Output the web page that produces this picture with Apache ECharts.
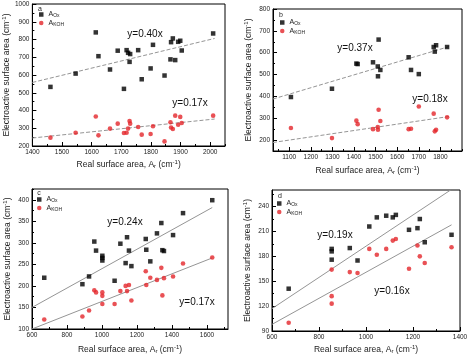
<!DOCTYPE html>
<html><head><meta charset="utf-8">
<script src="https://cdn.jsdelivr.net/npm/echarts@6/dist/echarts.min.js"></script>
<style>html,body{margin:0;padding:0;background:#fff}#c{width:474px;height:357px}</style>
</head><body><div id="c"></div>
<script>
// ---------- Panel a ----------
const aAr   = [1461,1546,1614,1623,1662,1688,1709,1718,1723,1728,1730,1757,1769,1799,1807,1846,1866,1868,1874,1882,1892,1899,1904,2010];
const aOx   = [533,608,840,706,631,737,522,740,725,674,718,740,576,637,770,597,688,785,806,684,787,793,738,834];
const aKoh  = [247,275,366,260,298,326,273,275,298,341,326,307,264,268,311,226,334,304,296,371,320,364,330,371];
const aFitOx  = [[1400,558],[2015,806]];
const aFitKoh = [[1400,245],[2015,352]];
const aXTicks = [1400,1500,1600,1700,1800,1900,2000];
const aYTicks = [200,300,400,500,600,700,800,900,1000];
// ---------- Panel b ----------
const bAr   = [1108,1298,1411,1417,1488,1510,1511,1514,1522,1653,1664,1700,1769,1774,1780,1831];
const bOx   = [397,435,550,548,556,537,492,660,521,579,521,502,626,605,634,626];
const bKoh  = [255,209,289,273,250,260,247,339,287,250,252,354,321,240,247,304];
const bFitOx  = [[1025,388],[1840,628]];
const bFitKoh = [[1025,189],[1840,308]];
const bXTicks = [1100,1200,1300,1400,1500,1600,1700,1800];
const bYTicks = [200,300,400,500,600,700,800];
// ---------- Panel c ----------
const cAr   = [670,888,926,956,966,1002,1002,1002,1072,1105,1135,1143,1154,1168,1250,1253,1276,1314,1339,1345,1354,1406,1463,1630];
const cOx   = [219,204,222,303,282,270,265,259,212,298,253,313,282,246,309,284,257,322,346,283,281,318,369,399];
const cKoh  = [122,129,143,190,185,185,177,158,158,188,200,188,202,166,234,202,219,214,242,178,218,222,252,266];
const cFitOx  = [[600,150],[1630,382]];
const cFitKoh = [[600,100],[1630,265]];
const cXTicks = [600,800,1000,1200,1400,1600];
const cYTicks = [100,150,200,250,300,350,400];
// ---------- Panel d ----------
const dAr   = [671,854,854,854,931,964,1014,1046,1086,1114,1127,1183,1219,1229,1250,1364];
const dOx   = [141,189,186,176,190,175,216,227,229,227,230,212,214,225,197,206];
const dKoh  = [100,164,132,123,161,160,189,182,189,199,201,165,193,180,172,191];
const dFitOx  = [[600,117],[1360,260]];
const dFitKoh = [[600,98],[1364,218]];
const dXTicks = [600,800,1000,1200,1400];
const dYTicks = [90,120,150,180,210,240];

const FONT = '"Liberation Sans", Arial, Helvetica, sans-serif';
const panels = [
  {id:'a', grid:{left:31,top:4,width:194,height:142}, xr:[1400,2050], yr:[200,1000], ar:aAr, ox:aOx, koh:aKoh,
   fo:aFitOx, fk:aFitKoh, xt:aXTicks, yt:aYTicks, dashed:true, xGap:13, yGap:20,
   leg:{left:39,top:11}, letter:[40,9], t1:['y=0.40x',145,34], t2:['y=0.17x',190,103]},
  {id:'b', grid:{left:273,top:9,width:189,height:142}, xr:[1025,1900], yr:[150,800], ar:bAr, ox:bOx, koh:bKoh,
   fo:bFitOx, fk:bFitKoh, xt:bXTicks, yt:bYTicks, dashed:true, xGap:14, yGap:19,
   leg:{left:280,top:19}, letter:[281,15], t1:['y=0.37x',355,48], t2:['y=0.18x',430,99]},
  {id:'c', grid:{left:32,top:189,width:196,height:140}, xr:[600,1720], yr:[100,425], ar:cAr, ox:cOx, koh:cKoh,
   fo:cFitOx, fk:cFitKoh, xt:cXTicks, yt:cYTicks, dashed:false, xGap:15, yGap:19,
   leg:{left:37,top:196}, letter:[39,193], t1:['y=0.24x',125,222], t2:['y=0.17x',197,302]},
  {id:'d', grid:{left:272,top:190,width:188,height:141}, xr:[600,1400], yr:[90,260], ar:dAr, ox:dOx, koh:dKoh,
   fo:dFitOx, fk:dFitKoh, xt:dXTicks, yt:dYTicks, dashed:false, xGap:13, yGap:19,
   leg:{left:277,top:200}, letter:[280,196], t1:['y=0.19x',335,235], t2:['y=0.16x',392,291]}
];

function minors(ticks, r){
  const step = ticks[1]-ticks[0], out=[];
  for (let v = ticks[0]-step/2; v <= r[1]+1e-9; v += step/2){
    if (v >= r[0]-1e-9 && ticks.indexOf(v) < 0) out.push(v);
  }
  return out;
}

const nameRich = {
  sub:{fontSize:6, fontFamily:FONT, color:'#222', padding:[4,0,0,0]},
  sup:{fontSize:6, fontFamily:FONT, color:'#222', padding:[0,0,5,0]}
};

const grid=[], xAxis=[], yAxis=[], series=[], legend=[], graphic=[];
panels.forEach((p,i)=>{
  grid.push(Object.assign({show:true, borderColor:'#000', borderWidth:1, backgroundColor:'transparent'}, p.grid));
  const lbl = {fontSize:6.5, margin:3, color:'#222', fontFamily:FONT, formatter: v => String(Math.round(v))};
  xAxis.push({gridIndex:i, type:'value', min:p.xr[0], max:p.xr[1], position:'bottom',
    axisLine:{show:true, onZero:false, lineStyle:{color:'#000', width:1}},
    axisTick:{show:true, inside:true, length:4, customValues:p.xt, lineStyle:{color:'#000'}},
    axisLabel:Object.assign({customValues:p.xt}, lbl),
    splitLine:{show:false},
    name:'Real surface area, A{sub|r} (cm{sup|-1})', nameLocation:'middle', nameGap:p.xGap,
    nameTextStyle:{fontSize:8.5, color:'#222', fontFamily:FONT, rich:nameRich}});
  xAxis.push({gridIndex:i, type:'value', min:p.xr[0], max:p.xr[1], position:'bottom',
    axisLine:{show:false, onZero:false}, axisTick:{show:true, inside:true, length:2, customValues:minors(p.xt,p.xr), lineStyle:{color:'#000'}},
    axisLabel:{show:false}, splitLine:{show:false}});
  yAxis.push({gridIndex:i, type:'value', min:p.yr[0], max:p.yr[1], position:'left',
    axisLine:{show:true, onZero:false, lineStyle:{color:'#000', width:1}},
    axisTick:{show:true, inside:true, length:4, customValues:p.yt, lineStyle:{color:'#000'}},
    axisLabel:Object.assign({customValues:p.yt}, lbl),
    splitLine:{show:false},
    name:'Electroactive surface area (cm{sup|-1})', nameLocation:'middle', nameGap:p.yGap, nameRotate:90,
    nameTextStyle:{fontSize:8.5, color:'#222', fontFamily:FONT, rich:nameRich}});
  yAxis.push({gridIndex:i, type:'value', min:p.yr[0], max:p.yr[1], position:'left',
    axisLine:{show:false, onZero:false}, axisTick:{show:true, inside:true, length:2, customValues:minors(p.yt,p.yr), lineStyle:{color:'#000'}},
    axisLabel:{show:false}, splitLine:{show:false}});
  const ax = 2*i;
  const ls = {color:'#959595', width:1, type: p.dashed ? [4,2] : 'solid'};
  series.push({type:'line', xAxisIndex:ax, yAxisIndex:ax, data:p.fo, symbol:'none', lineStyle:ls, silent:true, z:1});
  series.push({type:'line', xAxisIndex:ax, yAxisIndex:ax, data:p.fk, symbol:'none', lineStyle:ls, silent:true, z:1});
  series.push({name:p.id+'ox', type:'scatter', xAxisIndex:ax, yAxisIndex:ax, symbol:'rect', symbolSize:4.5,
    itemStyle:{color:'#000'}, z:3, data:p.ar.map((x,k)=>[x,p.ox[k]])});
  series.push({name:p.id+'koh', type:'scatter', xAxisIndex:ax, yAxisIndex:ax, symbol:'circle', symbolSize:4.6,
    itemStyle:{color:'#e3262b'}, z:3, data:p.ar.map((x,k)=>[x,p.koh[k]])});
  legend.push({left:p.leg.left, top:p.leg.top, orient:'vertical', padding:0, itemGap:1, itemWidth:4.5, itemHeight:4.5,
    selectedMode:false,
    data:[{name:p.id+'ox', icon:'rect'},{name:p.id+'koh', icon:'circle'}],
    formatter: n => n.endsWith('koh') ? '{m|A}{s|KOH}' : '{m|A}{s|Ox}',
    textStyle:{fontSize:7, color:'#222', fontFamily:FONT,
      rich:{m:{fontSize:7, fontFamily:FONT, color:'#222'}, s:{fontSize:5, fontFamily:FONT, color:'#222', padding:[3,0,0,0]}}}});
  graphic.push({type:'text', x:p.letter[0], y:p.letter[1], style:{text:p.id, fill:'#222', font:'7px '+FONT, textAlign:'center', textVerticalAlign:'middle'}});
  [p.t1,p.t2].forEach(t=>graphic.push({type:'text', x:t[1], y:t[2],
    style:{text:t[0], fill:'#111', font:'10px '+FONT, textAlign:'center', textVerticalAlign:'middle'}}));
});

const chart = echarts.init(document.getElementById('c'), null, {renderer:'canvas'});
chart.setOption({animation:false, backgroundColor:'#fff', grid, xAxis, yAxis, series, legend, graphic});
</script></body></html>
